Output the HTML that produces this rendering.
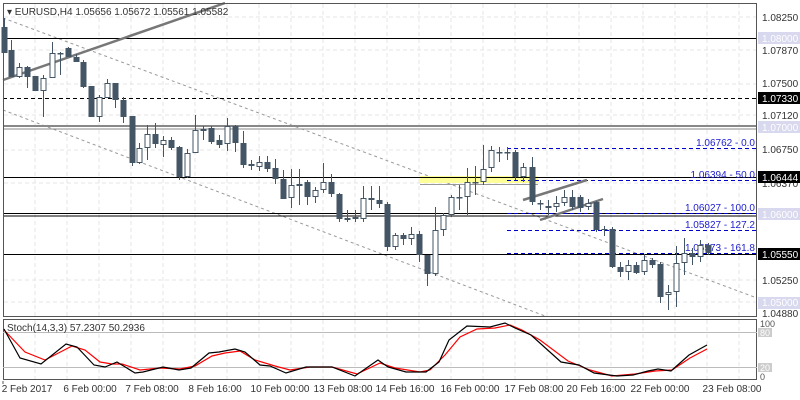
<!DOCTYPE html>
<html><head><meta charset="utf-8"><style>
body{margin:0;background:#fff;width:800px;height:400px;overflow:hidden}
svg{display:block;font-family:"Liberation Sans",sans-serif}
</style></head><body>
<svg id="s" width="800" height="400" xmlns="http://www.w3.org/2000/svg">
<rect width="800" height="400" fill="#fff"/>
<g id="grid" stroke="#e4e4e4" stroke-dasharray="4,3" stroke-width="1"></g>
<!-- channel dashed lines -->
<line x1="3" y1="18" x2="757" y2="298" stroke="#999" stroke-dasharray="3,3"/>
<line x1="3" y1="110" x2="545" y2="316" stroke="#999" stroke-dasharray="3,3"/>
<!-- horizontal levels -->
<line x1="3" y1="38.5" x2="757" y2="38.5" stroke="#000"/>
<line x1="3" y1="98.5" x2="757" y2="98.5" stroke="#000" stroke-dasharray="4,3"/>
<line x1="3" y1="126" x2="757" y2="126" stroke="#888" stroke-width="2"/>
<line x1="3" y1="129" x2="757" y2="129" stroke="#888" stroke-width="1"/>
<rect x="420" y="176" width="118" height="7" fill="#ffff99"/>
<line x1="420" y1="184.5" x2="538" y2="184.5" stroke="#999"/>
<line x1="3" y1="177.5" x2="757" y2="177.5" stroke="#000"/>
<line x1="3" y1="213.5" x2="757" y2="213.5" stroke="#000"/>
<line x1="3" y1="216" x2="757" y2="216" stroke="#000"/>
<line x1="3" y1="254.5" x2="757" y2="254.5" stroke="#000"/>
<!-- fib -->
<g stroke="#0000cc" stroke-dasharray="4,3">
<line x1="507" y1="148.5" x2="757" y2="148.5"/>
<line x1="507" y1="180.5" x2="757" y2="180.5"/>
<line x1="507" y1="213.5" x2="757" y2="213.5"/>
<line x1="507" y1="230.5" x2="757" y2="230.5"/>
<line x1="507" y1="253.5" x2="757" y2="253.5"/>
</g>
<g fill="#2020d0" font-size="10" text-anchor="end">
<text x="755" y="146">1.06762 - 0.0</text>
<text x="755" y="178">1.06394 - 50.0</text>
<text x="755" y="211">1.06027 - 100.0</text>
<text x="755" y="228">1.05827 - 127.2</text>
<text x="755" y="251">1.05573 - 161.8</text>
</g>
<!-- trend lines -->
<line x1="3" y1="80" x2="225" y2="3" stroke="#777" stroke-width="2.5"/>
<line x1="523" y1="200" x2="587" y2="180" stroke="#777" stroke-width="2.5"/>
<line x1="540" y1="220" x2="603" y2="199" stroke="#777" stroke-width="2.5"/>
<g id="candles"></g>
<!-- frames -->
<rect x="3.5" y="3.5" width="753" height="313" fill="none" stroke="#555"/>
<rect x="3.5" y="319.5" width="753" height="60" fill="none" stroke="#555"/>
<text x="7" y="15" font-size="10" fill="#333">▾ EURUSD,H4  1.05656 1.05672 1.05561 1.05582</text>
<!-- price axis -->
<g font-size="10" fill="#333">
<text x="762" y="21">1.08250</text>
<rect x="758" y="32" width="42" height="12" fill="#d8d8ee"/><text x="762" y="42" fill="#fff">1.08000</text>
<text x="762" y="54">1.07870</text>
<text x="762" y="87">1.07500</text>
<rect x="758" y="92" width="42" height="12" fill="#000"/><text x="762" y="102" fill="#fff">1.07330</text>
<text x="762" y="119">1.07120</text>
<rect x="758" y="121" width="42" height="12" fill="#d8d8ee"/><text x="762" y="131" fill="#fff">1.07000</text>
<text x="762" y="153">1.06750</text>
<text x="762" y="187">1.06370</text>
<rect x="758" y="171" width="42" height="12" fill="#000"/><text x="762" y="181" fill="#fff">1.06444</text>
<rect x="758" y="208" width="42" height="12" fill="#d8d8ee"/><text x="762" y="218" fill="#fff">1.06000</text>
<rect x="758" y="248" width="42" height="12" fill="#000"/><text x="762" y="258" fill="#fff">1.05550</text>
<text x="762" y="284">1.05250</text>
<rect x="758" y="297" width="42" height="12" fill="#d8d8ee"/><text x="762" y="306" fill="#fff">1.05000</text>
<text x="762" y="317">1.04880</text>
</g>
<!-- stoch -->
<line x1="3" y1="332.5" x2="757" y2="332.5" stroke="#bbb"/>
<line x1="3" y1="367.5" x2="757" y2="367.5" stroke="#bbb"/>
<text x="7" y="331" font-size="10" fill="#333">Stoch(14,3,3) 57.2307 50.2936</text>
<g font-size="9" fill="#555"><text x="760" y="327">100</text><rect x="758" y="328" width="14" height="9" fill="#ccc"/><text x="760" y="336" fill="#fff">80</text><rect x="758" y="363" width="14" height="9" fill="#ccc"/><text x="760" y="371" fill="#fff">20</text><text x="760" y="380">0</text></g>
<polyline id="red" fill="none" stroke="#f00" stroke-width="1.2"/>
<polyline id="blk" fill="none" stroke="#000" stroke-width="1.2"/>
<!-- time axis -->
<g font-size="10" fill="#333" text-anchor="middle">
<text x="27" y="392">2 Feb 2017</text><text x="90" y="392">6 Feb 00:00</text><text x="152" y="392">7 Feb 08:00</text><text x="215" y="392">8 Feb 16:00</text><text x="280" y="392">10 Feb 00:00</text><text x="343" y="392">13 Feb 08:00</text><text x="405" y="392">14 Feb 16:00</text><text x="470" y="392">16 Feb 00:00</text><text x="534" y="392">17 Feb 08:00</text><text x="596" y="392">20 Feb 16:00</text><text x="660" y="392">22 Feb 00:00</text><text x="732" y="392">23 Feb 08:00</text>
</g>
<g stroke="#555"><line x1="3" y1="381" x2="3" y2="384"/></g>
</svg>
<script>
var NS="http://www.w3.org/2000/svg",s=document.getElementById('s');
function el(p,t,a){var e=document.createElementNS(NS,t);for(var k in a)e.setAttribute(k,a[k]);p.appendChild(e);return e;}
var g=document.getElementById('grid');
for(var x=35;x<757;x+=32){el(g,'line',{x1:x,y1:4,x2:x,y2:316});el(g,'line',{x1:x,y1:320,x2:x,y2:379});}
[17,50,84,115,150,183,280,302].forEach(function(y){el(g,'line',{x1:4,y1:y,x2:757,y2:y});});
// x, top, bottom, dark, wickTop, wickBottom
var C=[[4,27,53,1,18,53],[11,50,77,1,40,77],[19,67,77,0,63,78],[27,67,77,1,66,88],[35,76,91,1,76,91],[43,78,91,0,75,117],[52,53,78,0,42,78],[60,53,54,0,52,75],[68,48,57,1,47,57],[76,57,62,1,54,62],[83,62,87,1,60,88],[91,86,117,1,86,117],[99,97,117,0,95,122],[107,83,98,0,79,98],[115,83,100,1,83,108],[123,100,117,1,97,123],[132,116,163,1,116,166],[139,148,163,0,143,164],[147,134,148,0,125,160],[155,134,144,1,123,148],[163,140,145,0,136,157],[171,140,148,1,137,150],[179,147,177,1,146,180],[187,153,177,0,149,178],[195,130,153,0,115,153],[203,129,131,1,126,140],[211,128,142,1,126,144],[219,140,145,1,135,148],[227,126,144,0,118,151],[235,126,143,1,125,152],[243,143,165,1,131,168],[251,164,166,1,160,170],[259,162,167,0,156,171],[267,162,169,1,156,172],[275,168,179,1,159,184],[283,179,199,1,170,199],[291,185,198,0,169,208],[299,184,186,1,169,205],[307,182,197,1,180,205],[315,190,197,0,187,203],[323,182,190,0,163,193],[331,182,194,1,174,197],[339,194,219,1,193,222],[347,218,220,1,210,222],[355,217,219,1,210,222],[363,198,219,0,186,222],[371,198,200,1,186,210],[379,200,204,1,186,208],[387,204,247,1,202,251],[395,235,247,0,233,250],[403,235,239,1,233,245],[411,234,239,0,227,245],[419,234,255,1,231,262],[427,255,274,1,255,286],[435,230,274,0,207,276],[443,215,230,0,213,236],[451,197,215,0,195,217],[459,197,198,0,185,210],[467,182,197,0,168,215],[475,182,183,0,166,195],[483,169,182,0,145,185],[491,150,168,0,146,172],[499,152,153,0,147,162],[507,152,153,0,147,160],[515,152,177,1,150,180],[523,167,177,0,163,182],[532,167,202,1,157,205],[540,203,204,0,200,210],[548,206,208,0,200,215],[556,203,207,0,196,212],[564,197,203,0,190,206],[572,197,207,1,190,210],[580,197,208,1,195,212],[588,203,207,0,199,210],[596,202,230,1,201,232],[604,229,230,1,226,236],[612,229,267,1,227,268],[620,267,272,1,262,277],[628,265,272,0,260,280],[636,265,273,1,262,274],[644,260,272,0,254,275],[652,260,265,1,258,268],[660,264,297,1,262,303],[668,292,295,0,285,310],[676,263,292,0,246,307],[684,253,263,0,238,275],[692,253,257,1,248,265],[700,245,257,0,240,262],[708,245,253,1,243,255]];
var cg=document.getElementById('candles');
C.forEach(function(c){var x=c[0];
el(cg,'line',{x1:x+.5,y1:c[4],x2:x+.5,y2:c[5],stroke:'#445566'});
var h=Math.max(1,c[2]-c[1]);
if(c[3])el(cg,'rect',{x:x-2.5,y:c[1],width:6,height:h,fill:'#445566'});
else el(cg,'rect',{x:x-2,y:c[1]+.5,width:5,height:Math.max(0.5,h-1),fill:'#fff',stroke:'#445566'});});
var B=[[4,329],[20,358],[41,364],[66,344],[77,347],[94,365],[105,367],[117,362],[135,373],[143,372],[163,367],[179,370],[191,368],[209,353],[219,352],[235,349],[245,352],[260,365],[270,366],[286,373],[306,367],[332,367],[355,376],[378,360],[388,367],[406,372],[426,372],[439,362],[449,340],[467,326],[490,327],[505,323],[515,328],[531,335],[561,362],[579,365],[594,373],[617,376],[633,375],[648,371],[658,369],[671,371],[689,355],[707,345]];
var R=[[4,330],[25,352],[45,360],[72,346],[85,350],[100,362],[112,364],[122,364],[140,370],[160,368],[180,369],[195,366],[212,356],[225,353],[240,351],[255,360],[275,366],[290,370],[310,367],[332,367],[357,374],[380,363],[395,368],[420,372],[430,370],[445,355],[460,337],[477,329],[495,328],[510,325],[522,330],[540,340],[568,361],[590,370],[612,376],[635,374],[655,371],[672,370],[690,358],[707,349]];
document.getElementById('blk').setAttribute('points',B.map(function(p){return p.join(',')}).join(' '));
document.getElementById('red').setAttribute('points',R.map(function(p){return p.join(',')}).join(' '));
</script>
</body></html>
